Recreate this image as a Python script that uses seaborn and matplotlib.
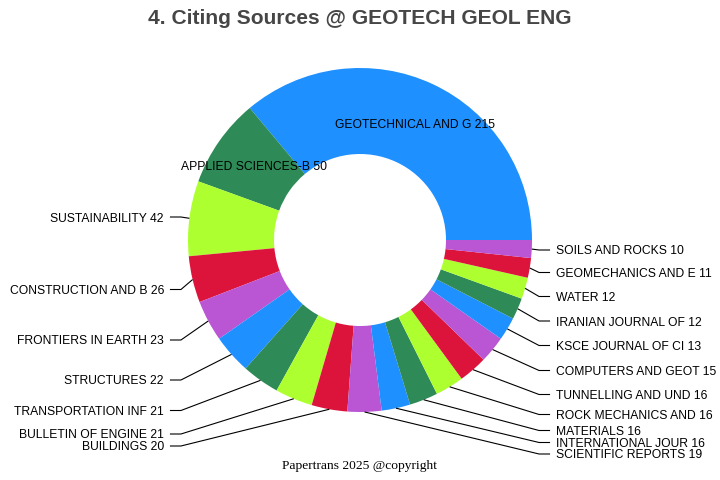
import numpy as np
import matplotlib
matplotlib.use("Agg")
import matplotlib.pyplot as plt
import seaborn as sns

# ---- data ----
sources = ["GEOTECHNICAL AND G", "APPLIED SCIENCES-B", "SUSTAINABILITY", "CONSTRUCTION AND B",
           "FRONTIERS IN EARTH", "STRUCTURES", "TRANSPORTATION INF", "BULLETIN OF ENGINE",
           "BUILDINGS", "SCIENTIFIC REPORTS", "INTERNATIONAL JOUR", "MATERIALS",
           "ROCK MECHANICS AND", "TUNNELLING AND UND", "COMPUTERS AND GEOT", "KSCE JOURNAL OF CI",
           "IRANIAN JOURNAL OF", "WATER", "GEOMECHANICS AND E", "SOILS AND ROCKS"]
counts = [215, 50, 42, 26, 23, 22, 21, 21, 20, 19, 16, 16, 16, 16, 15, 13, 12, 12, 11, 10]
title = "4. Citing Sources @ GEOTECH GEOL ENG"
footer = "Papertrans 2025 @copyright"

# ---- layout (pixel rows of the outside labels, in data order; None = inside) ----
label_rows_px = [None, None, 217, 289.5, 340, 380, 410.5, 434, 446,
                 454, 442.5, 430.5, 414.5, 394.5, 370.5, 345.5, 321, 296.5, 272.5, 250]

palette = sns.color_palette(["#1E90FF", "#2E8B57", "#ADFF2F", "#DC143C", "#BA55D3"])
colors = [palette[i % len(palette)] for i in range(len(counts))]

sns.set_theme(style="white")
plt.rcParams["font.family"] = ["Liberation Sans", "DejaVu Sans"]

W, H, R_PX = 720, 480, 172.0
CX, CY = 360.0, 240.0
fig = plt.figure(figsize=(7.2, 4.8), dpi=100)
ax = fig.add_axes([0, 0, 1, 1])

wedges, _ = ax.pie(counts, colors=colors, startangle=0, counterclock=True, radius=1.0,
                   wedgeprops=dict(width=0.5, edgecolor="none", linewidth=0))
ax.set_xlim(-CX / R_PX, (W - CX) / R_PX)
ax.set_ylim(-(H - CY) / R_PX, CY / R_PX)
ax.set_aspect("equal")
ax.axis("off")

def py2d(py):
    return (CY - py) / R_PX

fs = 8.7
dy_txt = 1.5 / R_PX  # small visual offset so caps sit centred on the leader line
for w, name, val, row in zip(wedges, sources, counts, label_rows_px):
    mid = np.deg2rad((w.theta1 + w.theta2) / 2.0)
    txt = f"{name} {val}"
    if row is None:
        rr = 0.75
        ax.text(rr * np.cos(mid), rr * np.sin(mid) - dy_txt, txt, ha="center", va="center",
                fontsize=fs, color="black")
        continue
    side = 1 if np.cos(mid) >= 0 else -1
    ex, ey = np.cos(mid), np.sin(mid)
    ly = py2d(row)
    xs = [ex, side * 1.041, side * 1.105]
    ys = [ey, ly, ly]
    ax.plot(xs, ys, color="black", lw=0.8, solid_capstyle="butt")
    ax.text(side * 1.14, ly - dy_txt, txt, ha="left" if side > 0 else "right", va="center",
            fontsize=fs, color="black")

fig.text(0.5, 1 - 19 / H, title, ha="center", va="center", fontsize=15.1,
         fontweight="bold", color="#464646")
fig.text(0.5, 1 - 466 / H, footer, ha="center", va="center", fontsize=9.7,
         family=["Liberation Serif", "DejaVu Serif"], color="black")

fig.savefig("out.png", dpi=100, facecolor="white")
